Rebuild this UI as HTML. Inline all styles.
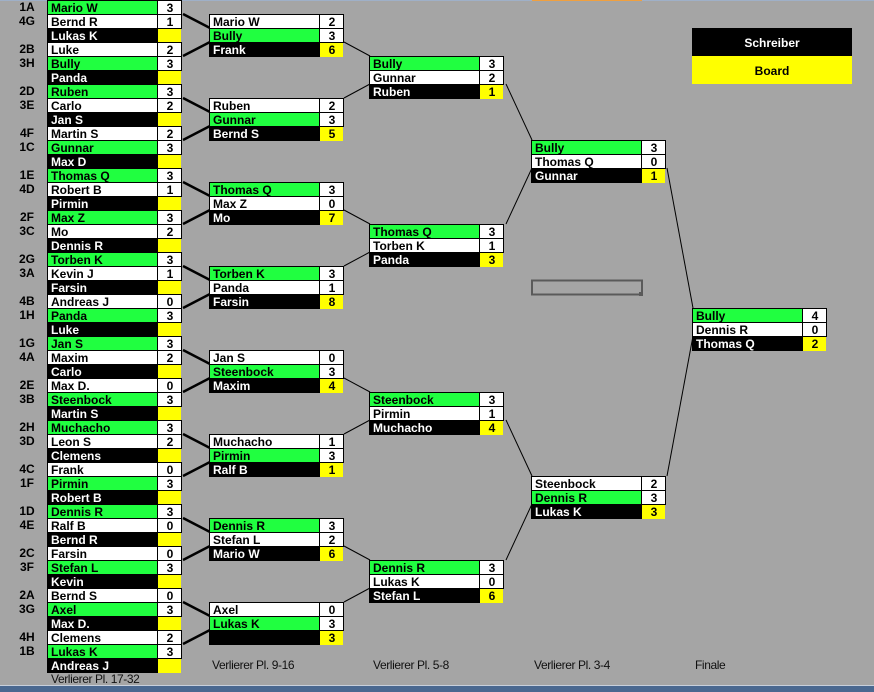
<!DOCTYPE html>
<html><head><meta charset="utf-8"><style>
html,body{margin:0;padding:0;background:#a5a5a5;}
svg{display:block;}
text{font-family:"Liberation Sans",sans-serif;font-weight:bold;font-size:12px;}
.lb{fill:#000}
.ft{font-family:"Liberation Sans Narrow","Liberation Sans",sans-serif;font-weight:normal;font-size:12px;fill:#111;letter-spacing:-0.4px}
</style></head><body>
<svg width="874" height="692" viewBox="0 0 874 692" xmlns="http://www.w3.org/2000/svg">
<rect x="0" y="0" width="874" height="692" fill="#a5a5a5"/>
<rect x="0" y="0" width="874" height="1" fill="#9fb0c8"/>
<rect x="532" y="0" width="110" height="1" fill="#f0a040"/>
<rect x="0" y="686" width="874" height="6" fill="#4a6890"/>
<rect x="0" y="685" width="874" height="1" fill="#c8d0dc"/>

<g stroke="#000" stroke-width="2.5" fill="none">
<line x1="183" y1="14" x2="210" y2="28"/><line x1="183" y1="56" x2="210" y2="42"/>
<line x1="183" y1="98" x2="210" y2="112"/><line x1="183" y1="140" x2="210" y2="126"/>
<line x1="183" y1="182" x2="210" y2="196"/><line x1="183" y1="224" x2="210" y2="210"/>
<line x1="183" y1="266" x2="210" y2="280"/><line x1="183" y1="308" x2="210" y2="294"/>
<line x1="183" y1="350" x2="210" y2="364"/><line x1="183" y1="392" x2="210" y2="378"/>
<line x1="183" y1="434" x2="210" y2="448"/><line x1="183" y1="476" x2="210" y2="462"/>
<line x1="183" y1="518" x2="210" y2="532"/><line x1="183" y1="560" x2="210" y2="546"/>
<line x1="183" y1="602" x2="210" y2="616"/><line x1="183" y1="644" x2="210" y2="630"/>
</g>
<g stroke="#000" stroke-width="1" fill="none">
<line x1="344" y1="42" x2="370" y2="56"/><line x1="344" y1="98" x2="370" y2="84"/>
<line x1="344" y1="210" x2="370" y2="224"/><line x1="344" y1="266" x2="370" y2="252"/>
<line x1="344" y1="378" x2="370" y2="392"/><line x1="344" y1="434" x2="370" y2="420"/>
<line x1="344" y1="546" x2="370" y2="560"/><line x1="344" y1="602" x2="370" y2="588"/>
<line x1="506" y1="84" x2="532" y2="140"/><line x1="506" y1="224" x2="532" y2="168"/>
<line x1="506" y1="420" x2="532" y2="476"/><line x1="506" y1="560" x2="532" y2="504"/>
<line x1="667" y1="168" x2="693" y2="308"/><line x1="667" y1="476" x2="693" y2="336"/>
</g>

<rect x="692" y="28" width="160" height="28" fill="#000"/>
<rect x="692" y="56" width="160" height="28" fill="#ff0"/>
<text x="772" y="47" text-anchor="middle" fill="#fff">Schreiber</text>
<text x="772" y="75" text-anchor="middle" fill="#000">Board</text>

<rect x="532" y="280.5" width="110" height="14" fill="none" stroke="#5a5a5a" stroke-width="2"/>
<rect x="639" y="292" width="4" height="4" fill="#5a5a5a"/>

<g class="lb" text-anchor="middle">
<text x="27" y="11">1A</text><text x="27" y="25">4G</text><text x="27" y="53">2B</text><text x="27" y="67">3H</text>
<text x="27" y="95">2D</text><text x="27" y="109">3E</text><text x="27" y="137">4F</text><text x="27" y="151">1C</text>
<text x="27" y="179">1E</text><text x="27" y="193">4D</text><text x="27" y="221">2F</text><text x="27" y="235">3C</text>
<text x="27" y="263">2G</text><text x="27" y="277">3A</text><text x="27" y="305">4B</text><text x="27" y="319">1H</text>
<text x="27" y="347">1G</text><text x="27" y="361">4A</text><text x="27" y="389">2E</text><text x="27" y="403">3B</text>
<text x="27" y="431">2H</text><text x="27" y="445">3D</text><text x="27" y="473">4C</text><text x="27" y="487">1F</text>
<text x="27" y="515">1D</text><text x="27" y="529">4E</text><text x="27" y="557">2C</text><text x="27" y="571">3F</text>
<text x="27" y="599">2A</text><text x="27" y="613">3G</text><text x="27" y="641">4H</text><text x="27" y="655">1B</text>
</g>

<defs>
<g id="gn"><rect x="0.5" y="0.5" width="110" height="14" fill="#20ff40" stroke="#000"/><rect x="110.5" y="0.5" width="24" height="14" fill="#fff" stroke="#000"/></g>
<g id="wt"><rect x="0.5" y="0.5" width="110" height="14" fill="#fff" stroke="#000"/><rect x="110.5" y="0.5" width="24" height="14" fill="#fff" stroke="#000"/></g>
<g id="bk"><rect x="0" y="0" width="111" height="15" fill="#000"/><rect x="111" y="1" width="23" height="14" fill="#ff0"/></g>
</defs>

<g transform="translate(47,0)">
<use href="#gn" y="0"/><use href="#wt" y="14"/><use href="#bk" y="28"/><use href="#wt" y="42"/><use href="#gn" y="56"/><use href="#bk" y="70"/>
<use href="#gn" y="84"/><use href="#wt" y="98"/><use href="#bk" y="112"/><use href="#wt" y="126"/><use href="#gn" y="140"/><use href="#bk" y="154"/>
<use href="#gn" y="168"/><use href="#wt" y="182"/><use href="#bk" y="196"/><use href="#gn" y="210"/><use href="#wt" y="224"/><use href="#bk" y="238"/>
<use href="#gn" y="252"/><use href="#wt" y="266"/><use href="#bk" y="280"/><use href="#wt" y="294"/><use href="#gn" y="308"/><use href="#bk" y="322"/>
<use href="#gn" y="336"/><use href="#wt" y="350"/><use href="#bk" y="364"/><use href="#wt" y="378"/><use href="#gn" y="392"/><use href="#bk" y="406"/>
<use href="#gn" y="420"/><use href="#wt" y="434"/><use href="#bk" y="448"/><use href="#wt" y="462"/><use href="#gn" y="476"/><use href="#bk" y="490"/>
<use href="#gn" y="504"/><use href="#wt" y="518"/><use href="#bk" y="532"/><use href="#wt" y="546"/><use href="#gn" y="560"/><use href="#bk" y="574"/>
<use href="#wt" y="588"/><use href="#gn" y="602"/><use href="#bk" y="616"/><use href="#wt" y="630"/><use href="#gn" y="644"/><use href="#bk" y="658"/>
<g fill="#000">
<text x="4" y="12">Mario W</text><text x="4" y="26">Bernd R</text><text x="4" y="54">Luke</text><text x="4" y="68">Bully</text>
<text x="4" y="96">Ruben</text><text x="4" y="110">Carlo</text><text x="4" y="138">Martin S</text><text x="4" y="152">Gunnar</text>
<text x="4" y="180">Thomas Q</text><text x="4" y="194">Robert B</text><text x="4" y="222">Max Z</text><text x="4" y="236">Mo</text>
<text x="4" y="264">Torben K</text><text x="4" y="278">Kevin J</text><text x="4" y="306">Andreas J</text><text x="4" y="320">Panda</text>
<text x="4" y="348">Jan S</text><text x="4" y="362">Maxim</text><text x="4" y="390">Max D.</text><text x="4" y="404">Steenbock</text>
<text x="4" y="432">Muchacho</text><text x="4" y="446">Leon S</text><text x="4" y="474">Frank</text><text x="4" y="488">Pirmin</text>
<text x="4" y="516">Dennis R</text><text x="4" y="530">Ralf B</text><text x="4" y="558">Farsin</text><text x="4" y="572">Stefan L</text>
<text x="4" y="600">Bernd S</text><text x="4" y="614">Axel</text><text x="4" y="642">Clemens</text><text x="4" y="656">Lukas K</text>
</g>
<g fill="#fff">
<text x="4" y="40">Lukas K</text><text x="4" y="82">Panda</text><text x="4" y="124">Jan S</text><text x="4" y="166">Max D</text>
<text x="4" y="208">Pirmin</text><text x="4" y="250">Dennis R</text><text x="4" y="292">Farsin</text><text x="4" y="334">Luke</text>
<text x="4" y="376">Carlo</text><text x="4" y="418">Martin S</text><text x="4" y="460">Clemens</text><text x="4" y="502">Robert B</text>
<text x="4" y="544">Bernd R</text><text x="4" y="586">Kevin</text><text x="4" y="628">Max D.</text><text x="4" y="670">Andreas J</text>
</g>
<g fill="#000" text-anchor="middle">
<text x="123" y="12">3</text><text x="123" y="26">1</text><text x="123" y="54">2</text><text x="123" y="68">3</text>
<text x="123" y="96">3</text><text x="123" y="110">2</text><text x="123" y="138">2</text><text x="123" y="152">3</text>
<text x="123" y="180">3</text><text x="123" y="194">1</text><text x="123" y="222">3</text><text x="123" y="236">2</text>
<text x="123" y="264">3</text><text x="123" y="278">1</text><text x="123" y="306">0</text><text x="123" y="320">3</text>
<text x="123" y="348">3</text><text x="123" y="362">2</text><text x="123" y="390">0</text><text x="123" y="404">3</text>
<text x="123" y="432">3</text><text x="123" y="446">2</text><text x="123" y="474">0</text><text x="123" y="488">3</text>
<text x="123" y="516">3</text><text x="123" y="530">0</text><text x="123" y="558">0</text><text x="123" y="572">3</text>
<text x="123" y="600">0</text><text x="123" y="614">3</text><text x="123" y="642">2</text><text x="123" y="656">3</text>
</g>
</g>

<g transform="translate(209,0)">
<use href="#wt" y="14"/><use href="#gn" y="28"/><use href="#bk" y="42"/>
<use href="#wt" y="98"/><use href="#gn" y="112"/><use href="#bk" y="126"/>
<use href="#gn" y="182"/><use href="#wt" y="196"/><use href="#bk" y="210"/>
<use href="#gn" y="266"/><use href="#wt" y="280"/><use href="#bk" y="294"/>
<use href="#wt" y="350"/><use href="#gn" y="364"/><use href="#bk" y="378"/>
<use href="#wt" y="434"/><use href="#gn" y="448"/><use href="#bk" y="462"/>
<use href="#gn" y="518"/><use href="#wt" y="532"/><use href="#bk" y="546"/>
<use href="#wt" y="602"/><use href="#gn" y="616"/><use href="#bk" y="630"/>
<g fill="#000">
<text x="4" y="26">Mario W</text><text x="4" y="40">Bully</text>
<text x="4" y="110">Ruben</text><text x="4" y="124">Gunnar</text>
<text x="4" y="194">Thomas Q</text><text x="4" y="208">Max Z</text>
<text x="4" y="278">Torben K</text><text x="4" y="292">Panda</text>
<text x="4" y="362">Jan S</text><text x="4" y="376">Steenbock</text>
<text x="4" y="446">Muchacho</text><text x="4" y="460">Pirmin</text>
<text x="4" y="530">Dennis R</text><text x="4" y="544">Stefan L</text>
<text x="4" y="614">Axel</text><text x="4" y="628">Lukas K</text>
</g>
<g fill="#fff">
<text x="4" y="54">Frank</text><text x="4" y="138">Bernd S</text><text x="4" y="222">Mo</text><text x="4" y="306">Farsin</text>
<text x="4" y="390">Maxim</text><text x="4" y="474">Ralf B</text><text x="4" y="558">Mario W</text>
</g>
<g fill="#000" text-anchor="middle">
<text x="123" y="26">2</text><text x="123" y="40">3</text><text x="123" y="54">6</text>
<text x="123" y="110">2</text><text x="123" y="124">3</text><text x="123" y="138">5</text>
<text x="123" y="194">3</text><text x="123" y="208">0</text><text x="123" y="222">7</text>
<text x="123" y="278">3</text><text x="123" y="292">1</text><text x="123" y="306">8</text>
<text x="123" y="362">0</text><text x="123" y="376">3</text><text x="123" y="390">4</text>
<text x="123" y="446">1</text><text x="123" y="460">3</text><text x="123" y="474">1</text>
<text x="123" y="530">3</text><text x="123" y="544">2</text><text x="123" y="558">6</text>
<text x="123" y="614">0</text><text x="123" y="628">3</text><text x="123" y="642">3</text>
</g>
</g>

<g transform="translate(369,0)">
<use href="#gn" y="56"/><use href="#wt" y="70"/><use href="#bk" y="84"/>
<use href="#gn" y="224"/><use href="#wt" y="238"/><use href="#bk" y="252"/>
<use href="#gn" y="392"/><use href="#wt" y="406"/><use href="#bk" y="420"/>
<use href="#gn" y="560"/><use href="#wt" y="574"/><use href="#bk" y="588"/>
<g fill="#000">
<text x="4" y="68">Bully</text><text x="4" y="82">Gunnar</text>
<text x="4" y="236">Thomas Q</text><text x="4" y="250">Torben K</text>
<text x="4" y="404">Steenbock</text><text x="4" y="418">Pirmin</text>
<text x="4" y="572">Dennis R</text><text x="4" y="586">Lukas K</text>
</g>
<g fill="#fff">
<text x="4" y="96">Ruben</text><text x="4" y="264">Panda</text><text x="4" y="432">Muchacho</text><text x="4" y="600">Stefan L</text>
</g>
<g fill="#000" text-anchor="middle">
<text x="123" y="68">3</text><text x="123" y="82">2</text><text x="123" y="96">1</text>
<text x="123" y="236">3</text><text x="123" y="250">1</text><text x="123" y="264">3</text>
<text x="123" y="404">3</text><text x="123" y="418">1</text><text x="123" y="432">4</text>
<text x="123" y="572">3</text><text x="123" y="586">0</text><text x="123" y="600">6</text>
</g>
</g>

<g transform="translate(531,0)">
<use href="#gn" y="140"/><use href="#wt" y="154"/><use href="#bk" y="168"/>
<use href="#wt" y="476"/><use href="#gn" y="490"/><use href="#bk" y="504"/>
<g fill="#000">
<text x="4" y="152">Bully</text><text x="4" y="166">Thomas Q</text>
<text x="4" y="488">Steenbock</text><text x="4" y="502">Dennis R</text>
</g>
<g fill="#fff"><text x="4" y="180">Gunnar</text><text x="4" y="516">Lukas K</text></g>
<g fill="#000" text-anchor="middle">
<text x="123" y="152">3</text><text x="123" y="166">0</text><text x="123" y="180">1</text>
<text x="123" y="488">2</text><text x="123" y="502">3</text><text x="123" y="516">3</text>
</g>
</g>

<g transform="translate(692,0)">
<use href="#gn" y="308"/><use href="#wt" y="322"/><use href="#bk" y="336"/>
<g fill="#000"><text x="4" y="320">Bully</text><text x="4" y="334">Dennis R</text></g>
<g fill="#fff"><text x="4" y="348">Thomas Q</text></g>
<g fill="#000" text-anchor="middle"><text x="123" y="320">4</text><text x="123" y="334">0</text><text x="123" y="348">2</text></g>
</g>

<text class="ft" x="51" y="683">Verlierer Pl. 17-32</text>
<text class="ft" x="212" y="669">Verlierer Pl. 9-16</text>
<text class="ft" x="373" y="669">Verlierer Pl. 5-8</text>
<text class="ft" x="534" y="669">Verlierer Pl. 3-4</text>
<text class="ft" x="695" y="669">Finale</text>
</svg>
</body></html>
